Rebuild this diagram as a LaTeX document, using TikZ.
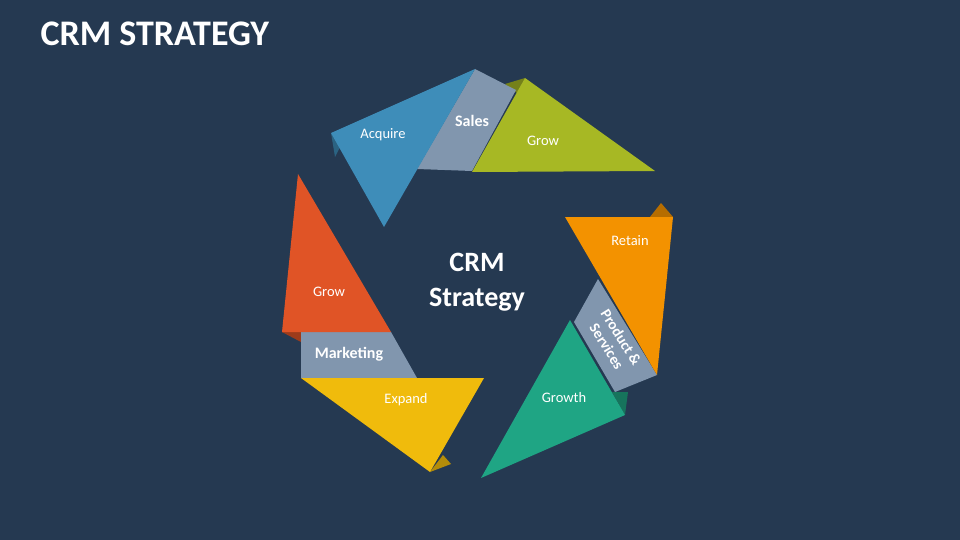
\documentclass[tikz,border=0pt]{standalone}
\usepackage{fontspec}
\setmainfont{Carlito}
\begin{document}
\begin{tikzpicture}[x=1pt,y=-1pt,
  lbl/.style={text=white,font=\fontsize{14.5}{16}\selectfont},
  blbl/.style={text=white,font=\fontsize{16}{18}\selectfont\bfseries}]
\definecolor{bg}{HTML}{253951}
\definecolor{cblue}{HTML}{3E8DB9}
\definecolor{cgray}{HTML}{8196AE}
\definecolor{cgreen}{HTML}{A7B824}
\definecolor{corange}{HTML}{F39200}
\definecolor{cteal}{HTML}{1FA584}
\definecolor{cred}{HTML}{E05426}
\definecolor{cyel}{HTML}{F0BB0C}
\fill[bg] (0,0) rectangle (960,540);
\useasboundingbox (0,0) rectangle (960,540);
% top group
\fill[cblue!70!black] (331,133)--(335,157)--(344,139)--cycle;
\fill[cgreen!70!black] (505,84)--(525,78)--(517,93)--cycle;
\fill[cgray] (475,69)--(516,90)--(472,171)--(417,169)--cycle;
\fill[cblue] (331,133)--(475,69)--(384,227)--cycle;
\fill[cgreen] (525,78)--(655,171)--(472,172)--cycle;
% right group
\fill[corange!75!black] (650,217)--(661,203)--(673,217)--cycle;
\fill[cteal!70!black] (612,392)--(628,392)--(625,415)--cycle;
\fill[cgray] (598,279)--(657,375)--(615,392)--(574,322)--cycle;
\fill[corange] (565,217)--(673,217)--(657,375)--cycle;
\fill[cteal] (570,320)--(625,415)--(481,478)--cycle;
% left group
\fill[cred!70!black] (282,332)--(301,332)--(301,342)--cycle;
\fill[cyel!75!black] (430,472)--(443,455)--(451,464)--cycle;
\fill[cgray] (301,332)--(391,332)--(417,378)--(301,378)--cycle;
\fill[cred] (298,174)--(391,332)--(282,332)--cycle;
\fill[cyel] (301,378)--(484,378)--(430,472)--cycle;
% texts
\node[anchor=west,text=white,font=\fontsize{36}{40}\selectfont\bfseries] (title) at (37,34) {CRM STRATEGY};
\node[align=center,text=white,font=\fontsize{28}{35}\selectfont\bfseries] (center) at (477,282) {CRM\\Strategy};
\node[lbl] (acq) at (383,135) {Acquire};
\node[blbl] (sales) at (472,121) {Sales};
\node[lbl] (grow1) at (543,141) {Grow};
\node[lbl] (ret) at (630,241) {Retain};
\node[text=white,align=center,rotate=-58,font=\fontsize{15}{17}\selectfont\bfseries] (ps) at (614,342) {Product \&\\Services};
\node[lbl] (gth) at (564,398) {Growth};
\node[lbl] (grow2) at (329,292) {Grow};
\node[blbl] (mkt) at (349,354) {Marketing};
\node[lbl] (exp) at (406,400) {Expand};
\end{tikzpicture}
\end{document}
